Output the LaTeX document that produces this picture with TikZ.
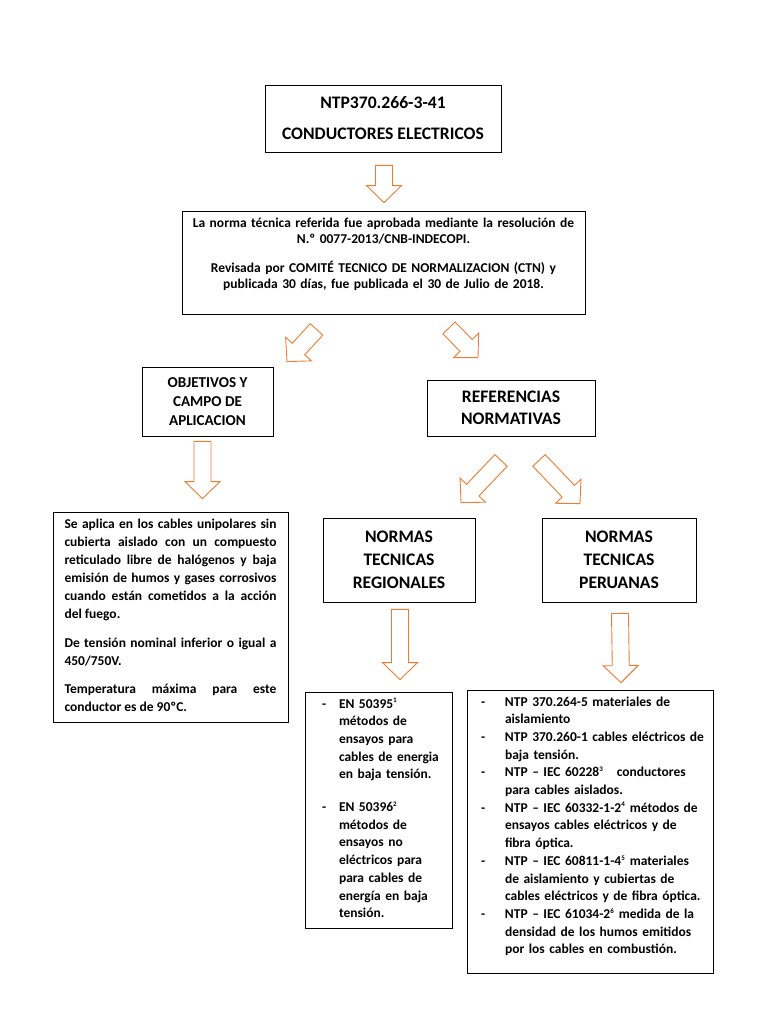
\documentclass[tikz,border=0pt]{standalone}
\usepackage{fontspec}
\setmainfont{Carlito}
\usepackage{tikz}
\usetikzlibrary{calc}
\usetikzlibrary{positioning}
\definecolor{arroworange}{RGB}{237,125,49}
\newlength{\dashoff}
\newlength{\dashind}
\newcommand{\dashitem}{\noindent\hangindent=\dashind\hangafter=1\makebox[\dashind][l]{\hspace*{\dashoff}-}}
\newcommand{\refnum}[1]{\textsuperscript{\fontsize{7}{8}\selectfont #1}}
\tikzset{
    block/.style={
           rectangle,
           draw=black, line width=0.8pt,
           inner sep=6pt,
           text centered, align=center,
           },
    big/.style={font=\fontsize{17.6}{#1}\selectfont\bfseries},
    big/.default=22,
    body/.style={font=\fontsize{13.5}{#1}\selectfont\bfseries},
    body/.default=16.8,
    toptext/.style={text height=10pt, text depth=#1},
    listbox/.style 2 args={
           align=left,
           execute at begin node={\setlength{\dashoff}{#1}\setlength{\dashind}{#2}},
           },
}
\tikzset{
    bigarrow/.style={
           draw=arroworange, line width=0.9pt, fill=white, line join=miter,
           to path={
             let \p1=(\tikztostart), \p2=(\tikztotarget),
                 \n1={atan2(\y2-\y1,\x2-\x1)}, \n2={veclen(\x2-\x1,\y2-\y1)} in
             ([shift={(\p1)},rotate=\n1]0,8.5)
             -- ([shift={(\p1)},rotate=\n1]\n2-17,8.5)
             -- ([shift={(\p1)},rotate=\n1]\n2-17,17.5)
             -- (\p2)
             -- ([shift={(\p1)},rotate=\n1]\n2-17,-17.5)
             -- ([shift={(\p1)},rotate=\n1]\n2-17,-8.5)
             -- ([shift={(\p1)},rotate=\n1]0,-8.5) -- cycle},
           },
}
\begin{document}
\begin{tikzpicture}[x=1pt,y=1pt]
 \useasboundingbox (0,0) rectangle (768,-1024);

 \node[block, big=21, minimum width=236pt, minimum height=67pt] (ntp) at (383,-118.5)
 {NTP370.266-3-41\\[10pt]CONDUCTORES ELECTRICOS};

 \node[block, body=17,
  text width=391pt, toptext=81pt,
  below of=ntp, node distance=144pt, xshift=0.5pt] (resol)
 {La norma técnica referida fue aprobada mediante la resolución de\\
  N.º 0077-2013/CNB-INDECOPI.\\[11pt]
  Revisada por COMITÉ TECNICO DE NORMALIZACION (CTN) y\\
  publicada 30 días, fue publicada el 30 de Julio de 2018.};

 \node[block, font=\fontsize{15.1}{19}\selectfont\bfseries,
  minimum width=131pt, minimum height=69pt,
  below of=resol, node distance=139pt, xshift=-176pt] (obj)
 {OBJETIVOS Y\\CAMPO DE\\APLICACION};

 \node[block, big,
  minimum width=168pt, minimum height=56pt,
  below of=resol, node distance=145.5pt, xshift=127.5pt] (ref)
 {REFERENCIAS\\NORMATIVAS};

 \node[block, body=18, align=justify,
  text width=212pt, inner xsep=11.5pt, toptext=188pt,
  below of=obj, node distance=215.5pt, xshift=-37pt] (aplica)
 {Se aplica en los cables unipolares sin\linebreak
  cubierta aislado con un compuesto\linebreak
  reticulado libre de halógenos y baja\linebreak
  emisión de humos y gases corrosivos\linebreak
  cuando están cometidos a la acción\linebreak
  del fuego.\par\vspace{11pt}
  De tensión nominal inferior o igual a\linebreak
  450/750V.\par\vspace{10pt}
  Temperatura máxima para este\linebreak
  conductor es de 90ºC.\par};

 \node[block, big=23,
  minimum width=152pt, minimum height=84pt,
  below of=ref, node distance=152pt, xshift=-112pt] (reg)
 {NORMAS\\TECNICAS\\REGIONALES};

 \node[block, big=23,
  minimum width=154pt, minimum height=84pt,
  right of=reg, node distance=220pt] (per)
 {NORMAS\\TECNICAS\\PERUANAS};

 \node[block, body=17.7, listbox={11pt}{28pt},
  text width=135pt, toptext=214pt,
  below of=reg, node distance=250pt, xshift=-20.5pt] (listreg)
 {\dashitem EN 50395\refnum{1}\newline métodos de\newline
   ensayos para\newline \mbox{cables de energia}\newline en baja tensión.\par\vspace{15pt}
  \dashitem EN 50396\refnum{2}\newline métodos de\newline ensayos no\newline
   eléctricos para\newline para cables de\newline energía en baja\newline tensión.\par};

 \node[block, body=17.7, listbox={8pt}{32pt},
  text width=234pt, toptext=261pt,
  below of=per, node distance=271.5pt, xshift=-29pt] (listper)
 {\dashitem NTP 370.264-5 materiales de\newline aislamiento\par
  \dashitem \mbox{NTP 370.260-1 cables eléctricos de}\newline baja tensión.\par
  \dashitem NTP -- IEC 60228\refnum{3}\hspace{9pt} conductores\newline para cables aislados.\par
  \dashitem \mbox{NTP -- IEC 60332-1-2\refnum{4} métodos de}\newline ensayos cables eléctricos y de\newline fibra óptica.\par
  \dashitem \mbox{NTP -- IEC 60811-1-4\refnum{5} materiales}\newline de aislamiento y cubiertas de\newline \mbox{cables eléctricos y de fibra óptica.}\par
  \dashitem NTP -- IEC 61034-2\refnum{6} medida de la\newline densidad de los humos emitidos\newline por los cables en combustión.\par};

 % orange block arrows between the boxes
 \path ($(ntp.south)+(1,-13)$)        edge[bigarrow] ($(resol.north)+(0.5,8)$)
       ($(resol.south)+(-67,-15)$)    edge[bigarrow] ($(obj.north)+(79.5,5)$)
       ($(resol.south)+(65.5,-13.5)$) edge[bigarrow] ($(ref.north)+(-33,22)$)
       ($(obj.south)+(-5,-5)$)        edge[bigarrow] ($(aplica.north)+(32,13)$)
       ($(ref.south)+(-10,-24)$)      edge[bigarrow] ($(reg.north)+(62,15)$)
       ($(ref.south)+(28,-24)$)       edge[bigarrow] ($(per.north)+(-39,14)$)
       ($(reg.south)+(1,-7)$)         edge[bigarrow] ($(listreg.north)+(21.5,12)$)
       ($(per.south)+(1,-11)$)        edge[bigarrow] ($(listper.north)+(31,7)$)
;

\end{tikzpicture}
\end{document}
